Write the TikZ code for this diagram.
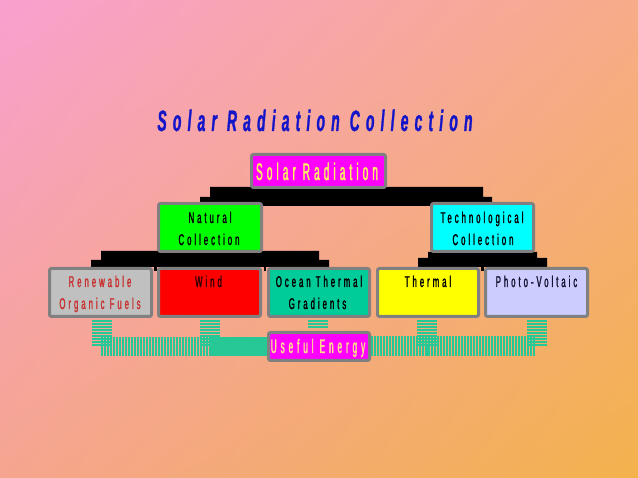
\documentclass[tikz,border=0pt]{standalone}
\usepackage{fontspec}
\usetikzlibrary{shadings}
\setmainfont{Liberation Sans}
\newfontfamily\boxfont[FakeStretch=0.5,LetterSpace=19,FakeBold=1.5]{Liberation Sans}
\newfontfamily\titlefont[FakeStretch=0.47,LetterSpace=21,FakeBold=1]{Liberation Sans}
\newfontfamily\bigfont[FakeStretch=0.42,LetterSpace=17,FakeBold=1.5]{Liberation Sans}
\newfontfamily\usefulfnt[FakeStretch=0.42,LetterSpace=20,FakeBold=1.5]{Liberation Sans}
\definecolor{bgul}{RGB}{249,160,207}
\definecolor{bgur}{RGB}{246,172,136}
\definecolor{bgll}{RGB}{245,165,143}
\definecolor{bglr}{RGB}{243,178,76}
\definecolor{titleblue}{RGB}{20,20,200}
\definecolor{cmag}{RGB}{255,0,255}
\definecolor{cgreen}{RGB}{0,255,0}
\definecolor{ccyan}{RGB}{0,255,255}
\definecolor{cgray}{RGB}{192,192,192}
\definecolor{cred}{RGB}{255,0,0}
\definecolor{cteal}{RGB}{0,204,153}
\definecolor{cyellow}{RGB}{255,255,0}
\definecolor{clav}{RGB}{204,204,255}
\definecolor{bordergray}{RGB}{128,128,128}
\definecolor{sg}{RGB}{40,200,150}
\definecolor{renred}{RGB}{200,50,50}
\definecolor{solartxt}{RGB}{255,240,96}
\definecolor{usefultxt}{RGB}{255,224,138}
\definecolor{windtxt}{RGB}{50,0,0}
\definecolor{phototxt}{RGB}{20,20,50}
\begin{document}
\begin{tikzpicture}[x=1pt,y=-1pt,
  box/.style={draw=bordergray,line width=3pt,rounded corners=2pt,inner sep=0pt,
    minimum width=102pt,minimum height=48pt},
  lbl/.style={anchor=base,inner sep=0pt,font=\boxfont\fontsize{15.6}{18}\selectfont},
  biglbl/.style={anchor=base,inner sep=0pt,font=\bigfont\fontsize{#1}{20}\selectfont},
  bar/.style={fill=black},
  stripe/.style={fill=sg}]
\useasboundingbox (0,0) rectangle (638,478);
\shade[upper left=bgul,upper right=bgur,lower left=bgll,lower right=bglr] (0,0) rectangle (638,478);
% title
\node[anchor=base,inner sep=0pt,text=titleblue,font=\titlefont\bfseries\itshape\fontsize{29.5}{32}\selectfont] (title) at (315,131) {Solar Radiation Collection};
% black connector bars
\fill[bar] (210,187) -- (483,187) -- (483,197) -- (492,197) -- (492,206) -- (200,206) -- (200,197) -- (210,197) -- cycle;
\fill[bar] (101,251) -- (319,251) -- (319,260) -- (329,260) -- (329,267) -- (91,267) -- (91,260) -- (101,260) -- cycle;
\fill[bar] (428,252) -- (537,252) -- (537,258) -- (547,258) -- (547,267) -- (418,267) -- (418,258) -- (428,258) -- cycle;
\fill[bar] (154,266) rectangle (156.5,271);
\fill[bar] (263.5,266) rectangle (266,271);
\fill[bar] (481,266) rectangle (483.5,271);
% green striped connectors
\foreach \xa in {92,200,417,527}{
  \foreach \yy in {320,323,...,344} \fill[stripe] (\xa,\yy) rectangle ++(20,2);
}
\foreach \yy in {320,323,326} \fill[stripe] (308,\yy) rectangle ++(20,2);
\foreach \xx in {101,104,...,209} \fill[stripe] (\xx,337) rectangle ++(2,19);
\fill[stripe] (210,337) rectangle (267,356);
\foreach \xx in {371,374,...,534} \fill[stripe] (\xx,336) rectangle ++(2,20);
\fill[stripe] (426,345) rectangle (428.5,356);
% boxes
\node[box,fill=cmag,minimum width=134pt,minimum height=33pt] (solar) at (318.5,171) {};
\node[box,fill=cgreen,minimum width=103pt] (natural) at (210,227.5) {};
\node[box,fill=ccyan] (tech) at (482.5,227.5) {};
\node[box,fill=cgray] (ren) at (100.5,292.5) {};
\node[box,fill=cred] (wind) at (209.5,292.5) {};
\node[box,fill=cteal,minimum width=101pt] (ocean) at (319,292.5) {};
\node[box,fill=cyellow,minimum width=101pt] (thermal) at (428,292.5) {};
\node[box,fill=clav] (photo) at (536.5,292.5) {};
\node[box,fill=cmag,minimum width=101pt,minimum height=28pt] (useful) at (319,346.5) {};
% labels
\node[biglbl=24,text=solartxt] (solart) at (317,180) {Solar Radiation};
\node[lbl] (natA) at (210,223) {Natural};
\node[lbl] (natB) at (209,245) {Collection};
\node[lbl] (techA) at (482,223) {Technological};
\node[lbl] (techB) at (483,245) {Collection};
\node[lbl,text=renred] (renA) at (100,287) {Renewable};
\node[lbl,text=renred] (renB) at (100,309) {Organic Fuels};
\node[lbl,text=windtxt] (windA) at (208.5,287) {Wind};
\node[lbl] (oceanA) at (319,287) {Ocean Thermal};
\node[lbl] (oceanB) at (317.5,309) {Gradients};
\node[lbl] (thermA) at (428,287) {Thermal};
\node[lbl,text=phototxt] (photoA) at (536.5,287) {Photo-Voltaic};
\node[anchor=base,inner sep=0pt,font=\usefulfnt\fontsize{19.5}{20}\selectfont,text=usefultxt] (usefult) at (318,353) {Useful Energy};
\end{tikzpicture}
\end{document}
